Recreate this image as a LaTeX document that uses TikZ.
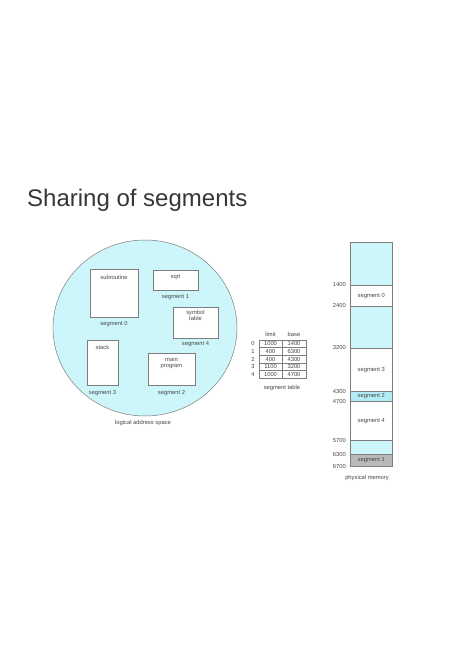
\documentclass[tikz,border=0pt]{standalone}
\usepackage{fontspec}
\setmainfont{Liberation Sans}
\usetikzlibrary{shapes.geometric}
\definecolor{lcyan}{RGB}{204,246,250}
\definecolor{dcyan}{RGB}{178,236,244}
\definecolor{edgec}{RGB}{125,125,125}
\definecolor{titlec}{RGB}{55,55,55}
\definecolor{txtc}{RGB}{70,70,70}
\definecolor{segg}{RGB}{185,185,185}
\begin{document}
\begin{tikzpicture}[x=1pt,y=-1pt,
  small/.style={font=\fontsize{5.8}{6.6}\selectfont, text=txtc, inner sep=0pt, align=center},
  segbox/.style={draw=edgec, fill=white, line width=0.5pt, inner sep=0pt},
  memcell/.style={draw=edgec, line width=0.5pt, inner sep=0pt, minimum width=42pt, anchor=north west,
    font=\fontsize{5.8}{6.6}\selectfont, text=txtc},
  memfree/.style={memcell, fill=lcyan},
  memused/.style={memcell, fill=white},
  tline/.style={draw=edgec, line width=0.4pt}]
\useasboundingbox[fill=white] (0,0) rectangle (474,663);

% title
\node[anchor=west, font=\fontsize{24}{28}\selectfont, text=titlec, inner sep=0pt] (title) at (27,200) {Sharing of segments};

% logical address space
\node[ellipse, draw=edgec, fill=lcyan, line width=0.5pt, minimum width=184pt, minimum height=176pt] (las) at (145,328) {};
\node[small] (lasl) at (143,423) {logical address space};

\node[segbox, minimum width=48pt, minimum height=48pt] (sub) at (114,293) {};
\node[small, anchor=north] (subt) at ([yshift=-6pt]sub.north) {subroutine};
\node[small, anchor=north] (subs) at ([yshift=-4pt]sub.south) {segment 0};

\node[segbox, minimum width=45pt, minimum height=20pt] (sqrt) at (175.5,280) {};
\node[small, anchor=north] (sqrtt) at ([yshift=-5pt]sqrt.north) {sqrt};
\node[small, anchor=north] (sqrts) at ([yshift=-4pt]sqrt.south) {segment 1};

\node[segbox, minimum width=45pt, minimum height=31pt] (sym) at (195.5,322.5) {};
\node[small, anchor=north] (symt) at ([yshift=-3pt]sym.north) {symbol\\table};
\node[small, anchor=north] (syms) at ([yshift=-3pt]sym.south) {segment 4};

\node[segbox, minimum width=31pt, minimum height=45pt] (stk) at (102.5,362.5) {};
\node[small, anchor=north] (stkt) at ([yshift=-5pt]stk.north) {stack};
\node[small, anchor=north] (stks) at ([yshift=-5pt]stk.south) {segment 3};

\node[segbox, minimum width=47pt, minimum height=32pt] (mainp) at (171.5,369) {};
\node[small, anchor=north] (maint) at ([yshift=-4pt]mainp.north) {main\\program};
\node[small, anchor=north] (mains) at ([yshift=-5pt]mainp.south) {segment 2};

% segment table
\node[draw=edgec, line width=0.5pt, minimum width=47pt, minimum height=38pt, inner sep=0pt, anchor=north west] (tab) at (259,340) {};
\node[small] (hlim) at (270.5,334) {limit};
\node[small] (hbase) at (294,334) {base};
\draw[tline] ([xshift=23pt]tab.north west) -- ([xshift=23pt]tab.south west);
\foreach \i in {1,2,3,4}{
  \draw[tline] ([yshift={-7.6pt*\i}]tab.north west) -- ([yshift={-7.6pt*\i}]tab.north east);
}
\foreach \i/\l/\b in {0/1000/1400,1/400/6300,2/400/4300,3/1100/3200,4/1000/4700}{
  \node[small] (idx\i) at (253,{343.8+7.6*\i}) {\i};
  \node[small] (lim\i) at (270.5,{343.8+7.6*\i}) {\l};
  \node[small] (base\i) at (294,{343.8+7.6*\i}) {\b};
}
\node[small] (tabl) at (282,388) {segment table};

% physical memory
\node[memfree, minimum height=43pt] (m0) at (350,242) {};
\node[memused, minimum height=21pt] (m1) at (350,285) {segment 0};
\node[memfree, minimum height=42pt] (m2) at (350,306) {};
\node[memused, minimum height=43pt] (m3) at (350,348) {segment 3};
\node[memcell, fill=dcyan, minimum height=10pt] (m4) at (350,391) {segment 2};
\node[memused, minimum height=39pt] (m5) at (350,401) {segment 4};
\node[memfree, minimum height=14pt] (m6) at (350,440) {};
\node[memcell, fill=segg, minimum height=12pt] (m7) at (350,454) {segment 1};

\node[small, anchor=east] (a1) at ([xshift=-4pt]m1.north west) {1400};
\node[small, anchor=east] (a2) at ([xshift=-4pt]m2.north west) {2400};
\node[small, anchor=east] (a3) at ([xshift=-4pt]m3.north west) {3200};
\node[small, anchor=east] (a4) at ([xshift=-4pt]m4.north west) {4300};
\node[small, anchor=east] (a5) at ([xshift=-4pt]m5.north west) {4700};
\node[small, anchor=east] (a6) at ([xshift=-4pt]m6.north west) {5700};
\node[small, anchor=east] (a7) at ([xshift=-4pt]m7.north west) {6300};
\node[small, anchor=east] (a8) at ([xshift=-4pt]m7.south west) {6700};
\node[small] (pml) at (367,478) {physical memory};
\end{tikzpicture}
\end{document}
